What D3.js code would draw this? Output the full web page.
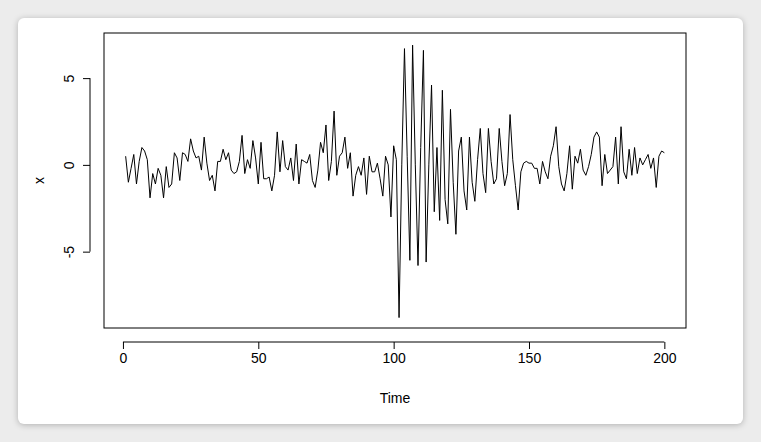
<!DOCTYPE html>
<html><head><meta charset="utf-8">
<script src="https://cdn.jsdelivr.net/npm/d3@7"></script>
<style>
body{margin:0;background:#ececec;font-family:"Liberation Sans",Arial,sans-serif}
#card{position:absolute;left:18px;top:18px;width:725px;height:406px;background:#fff;border-radius:6px;box-shadow:0 1px 6px rgba(0,0,0,.25)}
svg{position:absolute;left:0;top:0}
</style></head><body>
<div id="card"></div>
<svg id="chart" width="761" height="442"></svg>
<script>
var seg1 = [0.5,-1,-0.2,0.6,-1.1,0.2,1,0.8,0.3,-1.9,-0.5,-1.1,-0.2,-0.6,-1.9,-0.1,-1.3,-1.1,0.7,0.4,-0.9,0.7,0.6,0.2,1.5,0.8,0.4,0.5,-0.3,1.6,0.1,-0.9,-0.6,-1.5,0.2,0.2,0.9,0.3,0.7,-0.3,-0.5,-0.4,0.2,1.7,-0.5,0.3,-0.2,1.4,0.4,-1.1];
var seg2 = [1.3,-0.8,-0.8,-0.7,-1.5,-0.6,1.9,-0.4,1.4,-0.1,-0.3,0.4,-0.9,1.2,-1.1,0.3,0.2,0.1,0.6,-0.9,-1.3,-0.3,1.3,0.7,2.3,-0.9,0.2,3.1,-0.6,0.5,0.7,1.6,-0.2,0.7,-1.8,-0.6,-0.1,-0.6,0.4,-1.7,0.5,-0.4,-0.4,0.1,-0.8,-1.8,0.5,0,-3,1.1];
var seg3 = [0.3,-8.8,0,6.7,0.5,-5.5,6.9,0,-5.8,1,6.6,-5.6,0,4.6,-2.7,1,-3.2,4.3,-2,-3.4,3.2,-1,-4,0.8,1.6,-1.5,-2.6,1.6,-1,-2.1,0.3,2.1,-0.5,-1.6,2.1,0.2,-1.1,-0.8,2.1,0.2,-1.2,-0.5,2.9,0.3,-1.2,-2.6,-0.4,0.1,0.2,0.1];
var seg4 = [0.1,-0.2,-0.2,-1.1,0.2,-0.4,-0.8,0.5,1.1,2.2,-0.1,-1.1,-1.5,-0.5,1.1,-1.4,0.5,0.1,0.9,-0.3,-0.6,-0.1,0.6,1.6,1.9,1.6,-1.2,0.6,-0.5,-0.3,-0.1,1.6,-1.1,2.2,-0.4,-0.8,0.9,-0.6,1.0,-0.5,0.4,0,0.3,0.6,-0.2,0.4,-1.3,0.5,0.8,0.7];
var values = seg1.concat(seg2, seg3, seg4);
var xTicks = [0, 50, 100, 150, 200];
var yTicks = [-5, 0, 5];

var svg = d3.select("#chart");
var pLeft = 104, pRight = 686, pTop = 33, pBottom = 328;
var x = d3.scaleLinear().domain([-7, 208]).range([pLeft, pRight]);
var y = d3.scaleLinear().domain([-9.4, 7.6]).range([pBottom, pTop]);

svg.append("rect").attr("x", pLeft).attr("y", pTop).attr("width", pRight - pLeft).attr("height", pBottom - pTop)
  .attr("fill", "none").attr("stroke", "#000");

svg.append("path").datum(values)
  .attr("d", d3.line().x(function(d, i){ return x(i + 1); }).y(function(d){ return y(d); }))
  .attr("fill", "none").attr("stroke", "#000").attr("stroke-width", 1);

var ax = svg.append("g").attr("transform", "translate(0," + (pBottom + 14) + ")")
  .call(d3.axisBottom(x).tickValues(xTicks).tickSize(7).tickPadding(4).tickSizeOuter(0));
ax.select(".domain").attr("d", "M" + x(0) + ",0H" + x(200));
ax.selectAll("text").attr("font-size", 14).attr("font-family", "Liberation Sans, Arial");

var ay = svg.append("g").attr("transform", "translate(" + (pLeft - 14) + ",0)")
  .call(d3.axisLeft(y).tickValues(yTicks).tickSize(7).tickSizeOuter(0).tickFormat(function(d){ return d < 0 ? "-" + (-d) : d; }));
ay.select(".domain").attr("d", "M0," + y(-5) + "V" + y(5));
ay.selectAll(".tick text").attr("font-size", 14).attr("font-family", "Liberation Sans, Arial")
  .attr("text-anchor", "middle").attr("transform", "rotate(-90)")
  .attr("x", 0).attr("y", -16).attr("dy", 0);

svg.append("text").attr("x", (pLeft + pRight) / 2).attr("y", 403).attr("text-anchor", "middle")
  .attr("font-size", 14).text("Time");
svg.append("text").attr("transform", "translate(44," + ((pTop + pBottom) / 2) + ") rotate(-90)")
  .attr("text-anchor", "middle").attr("font-size", 14).text("x");
</script></body></html>
